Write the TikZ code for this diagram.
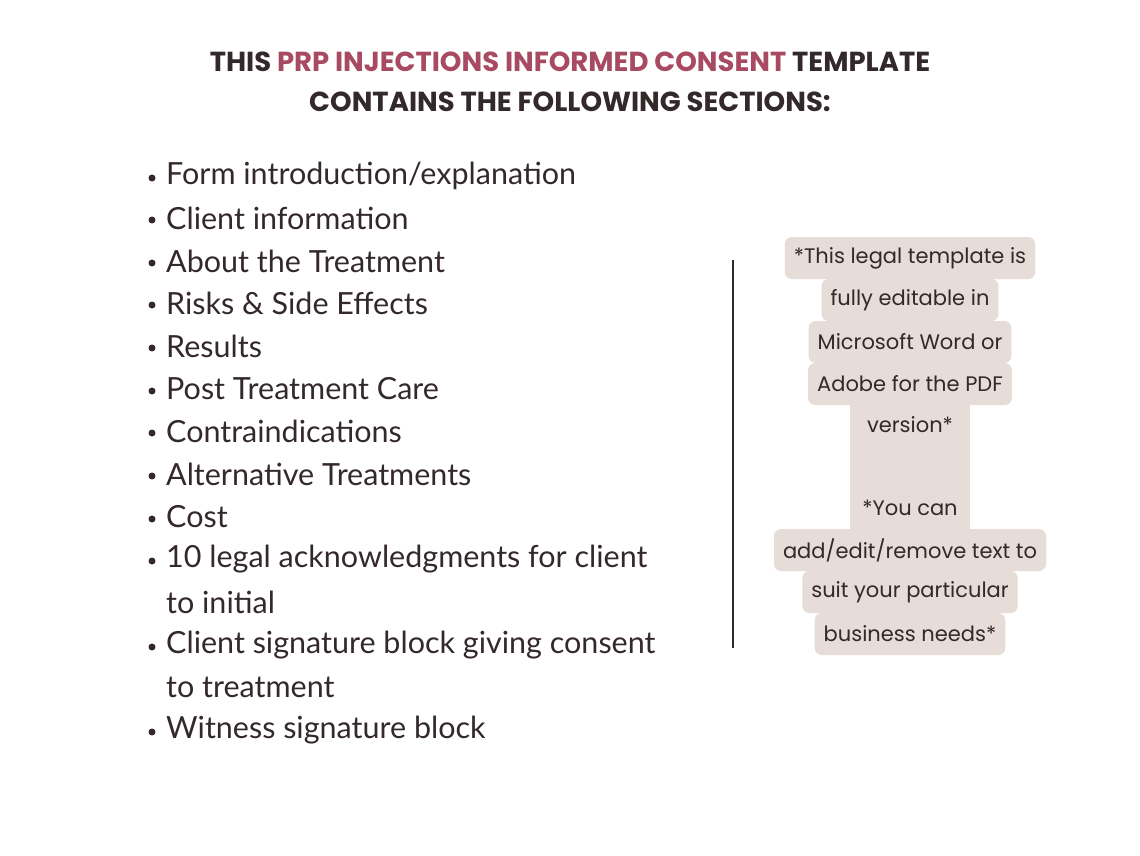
\documentclass[tikz,border=0pt]{standalone}
\usepackage{fontspec}
\setmainfont{Lato}
\newfontfamily\popp{Poppins}
\definecolor{dark}{HTML}{33282A}
\definecolor{pinkc}{HTML}{A84A62}
\definecolor{hl}{HTML}{E6DCD8}
\begin{document}
\begin{tikzpicture}[x=1pt,y=-1pt,
  title/.style={font=\popp\bfseries\fontsize{27.5}{32}\selectfont,text=dark,anchor=center},
  item/.style={font=\fontsize{30.5}{36}\selectfont,text=dark,anchor=west,inner sep=0},
  bul/.style={circle,fill=dark,inner sep=0,minimum size=7pt},
  hlt/.style={font=\popp\fontsize{21}{25}\selectfont,text=dark,fill=hl,rounded corners=7pt,minimum height=42pt,inner xsep=9pt,inner ysep=0pt,anchor=center}]
\useasboundingbox (0,0) rectangle (1140,855);
\fill[white] (0,0) rectangle (1140,855);
\node[title] (t1) at (570,62) {THIS \textcolor{pinkc}{PRP INJECTIONS INFORMED CONSENT} TEMPLATE};
\node[title] (t2) at (570,102) {CONTAINS THE FOLLOWING SECTIONS:};
\foreach \y/\t [count=\i] in {176/{Form introduction/explanation},218/Client information,261/About the Treatment,303/Risks \& Side Effects,346/Results,389/Post Treatment Care,431/Contraindications,474/Alternative Treatments,517/Cost,559/10 legal acknowledgments for client,645/Client signature block giving consent,730/Witness signature block}{
  \node[bul] (b\i) at (152,\y+2) {};
  \node[item] (i\i) at (166,\y) {\t};
}
\node[item] (c1) at (166,602) {to initial};
\node[item] (c2) at (166,687) {to treatment};
\draw[dark,line width=1.5pt] (733,260) -- (733,648);
\fill[hl] (850,400) rectangle (970,530);
\foreach \y/\t [count=\i] in {258/*This legal template is,300/fully editable in,342/Microsoft Word or,384/Adobe for the PDF,425/version*,508/*You can,550/{add/edit/remove text to},592/suit your particular,634/business needs*}{
  \node[hlt] (h\i) at (910,\y) {\t};
}
\end{tikzpicture}
\end{document}
